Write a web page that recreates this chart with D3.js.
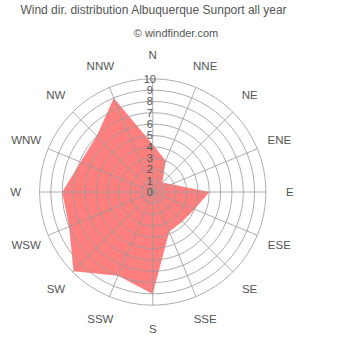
<!DOCTYPE html>
<html>
<head>
<meta charset="utf-8">
<script src="https://cdn.jsdelivr.net/npm/d3@7"></script>
<style>
html,body{margin:0;padding:0;background:#fff;}
svg{display:block;font-family:"Liberation Sans",Arial,Helvetica,sans-serif;}
</style>
</head>
<body>
<svg id="chart" width="340" height="340"></svg>
<script>
const directions = ["N","NNE","NE","ENE","E","ESE","SE","SSE","S","SSW","SW","WSW","W","WNW","NW","NNW"];
const values = [4.2, 3.0, 1.2, 1.8, 5.0, 4.0, 3.7, 3.8, 9.0, 8.0, 9.9, 8.0, 8.0, 6.9, 7.0, 9.0];
const ringTicks = [0,1,2,3,4,5,6,7,8,9,10];
const title = "Wind dir. distribution Albuquerque Sunport all year";
const credit = "\u00a9 windfinder.com";

const svg = d3.select("#chart");
const cx = 152.75, cy = 192, R = 113.2;

const r = d3.scaleLinear().domain([0, 10]).range([0, R]);
const angle = d3.scaleBand().domain(directions).range([0, 2 * Math.PI]).align(0).paddingInner(0).paddingOuter(0);
const ang = d => angle(d);

const g = svg.append("g").attr("transform", `translate(${cx},${cy})`);

// data polygon
const radial = d3.lineRadial()
  .angle((d, i) => ang(directions[i]))
  .radius(d => r(d))
  .curve(d3.curveLinearClosed);
g.append("path")
  .datum(values)
  .attr("d", radial)
  .attr("fill", "rgba(255,0,0,0.5)")
  .attr("stroke", "none");

// rings
g.selectAll("circle.ring").data(ringTicks.filter(t => t > 0)).join("circle")
  .attr("class", "ring")
  .attr("r", d => r(d))
  .attr("fill", "none")
  .attr("stroke", "#999")
  .attr("stroke-width", 0.8);

// spokes
g.selectAll("line.spoke").data(directions).join("line")
  .attr("class", "spoke")
  .attr("x1", 0).attr("y1", 0)
  .attr("x2", d => r(10) * Math.sin(ang(d)))
  .attr("y2", d => -r(10) * Math.cos(ang(d)))
  .attr("stroke", "#999")
  .attr("stroke-width", 0.8);

// ring labels
g.selectAll("text.tick").data(ringTicks).join("text")
  .attr("class", "tick")
  .attr("x", -3)
  .attr("y", d => -r(d))
  .attr("dy", "0.36em")
  .attr("text-anchor", "middle")
  .attr("font-size", 11)
  .attr("fill", "#555")
  .text(d => d);

// direction labels
const LR = 137;
g.selectAll("text.dir").data(directions).join("text")
  .attr("class", "dir")
  .attr("x", d => LR * Math.sin(ang(d)))
  .attr("y", d => -LR * Math.cos(ang(d)))
  .attr("dy", "0.36em")
  .attr("text-anchor", "middle")
  .attr("font-size", 11.5)
  .attr("fill", "#555")
  .text(d => d);

// titles
svg.append("text")
  .attr("x", 153.5).attr("y", 14)
  .attr("text-anchor", "middle")
  .attr("font-size", 12)
  .attr("fill", "#555")
  .text(title);
svg.append("text")
  .attr("x", 176).attr("y", 37)
  .attr("text-anchor", "middle")
  .attr("font-size", 11)
  .attr("fill", "#555")
  .text(credit);
</script>
</body>
</html>
